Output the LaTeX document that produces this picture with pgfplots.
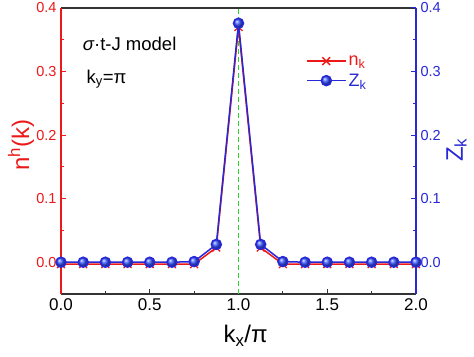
\documentclass[border=0pt]{standalone}
\usepackage{pgfplots}
\pgfplotsset{compat=1.18}
\usepackage{fontspec}
\setmainfont{Liberation Sans}
\definecolor{myred}{RGB}{235,25,25}
\definecolor{myblue}{RGB}{40,40,215}
\definecolor{ballblue}{RGB}{50,80,255}
\definecolor{mygreen}{RGB}{40,215,40}
\pgfplotstableread{
x n z
0.000 -0.003 0.000
0.125 -0.003 0.000
0.250 -0.003 0.000
0.375 -0.003 0.000
0.500 -0.003 0.000
0.625 -0.003 0.000
0.750 -0.003 0.001
0.875 0.023 0.028
1.000 0.370 0.376
1.125 0.023 0.028
1.250 -0.003 0.001
1.375 -0.003 0.000
1.500 -0.003 0.000
1.625 -0.003 0.000
1.750 -0.003 0.000
1.875 -0.003 0.000
2.000 -0.003 0.000
}\datatable
\begin{document}
\begin{tikzpicture}
\pgfplotsset{
  common/.style={
    scale only axis, width=355pt, height=286pt,
    xmin=0, xmax=2, ymin=-0.05, ymax=0.4,
    tick align=inside,
    major tick length=5pt, minor tick length=3pt,
    /pgf/number format/assume math mode=true,
    /pgf/number format/fixed, /pgf/number format/fixed zerofill,
    /pgf/number format/precision=1,
    ytick={0,0.1,0.2,0.3,0.4}, minor y tick num=1,
    xtick={0,0.5,1,1.5,2}, minor x tick num=1,
    yticklabel style={font=\fontsize{14.5}{16}\selectfont},
    xticklabel style={font=\fontsize{17}{19}\selectfont},
    label style={font=\fontsize{24}{28}\selectfont},
  }
}
\begin{axis}[common, name=ax,
  axis y line*=left, axis x line*=box,
  xtick pos=bottom,
  y axis line style={myred, line width=1.2pt},
  x axis line style={black!80, line width=1.2pt},
  ytick style={myred, line width=1pt},
  xtick style={black!80, line width=1pt},
  yticklabel style={myred, xshift=-1pt},
  xticklabel style={yshift=-1pt},
  ylabel={n\textsuperscript{h}(k)},
  ylabel style={myred, at={(axis description cs:-0.09,0.521)}, anchor=base},
  xlabel={k\textsubscript{x}/π},
  xlabel style={at={(axis description cs:0.52,-0.171)}, anchor=base},
]
\addplot[mygreen, line width=1.4pt, dash pattern=on 5pt off 3pt, forget plot] coordinates {(1,-0.05) (1,0.4)};
\addplot[myred, line width=1.5pt, mark=x, mark size=5.5pt, mark options={line width=1.3pt}] table[x=x,y=n]{\datatable};
\node[anchor=base west, font=\fontsize{18.5}{20}\selectfont] at (axis description cs:0.052,0.853) {{\itshape σ}·t-J model};
\node[anchor=base west, font=\fontsize{18.5}{20}\selectfont] at (axis description cs:0.062,0.737) {k\textsubscript{y}=π};
\end{axis}
\begin{axis}[common,
  axis y line*=right, axis x line=none,
  y axis line style={myblue, line width=1.2pt},
  ytick style={myblue, line width=1pt},
  yticklabel style={myblue, xshift=1pt},
  ylabel={Z\textsubscript{k}},
  ylabel style={myblue, at={(axis description cs:1.132,0.503)}, anchor=base},
  legend style={draw=none, fill=none, at={(axis description cs:0.687,0.845)}, anchor=north west, font=\fontsize{18}{20}\selectfont, row sep=3pt, inner sep=1pt},
  legend cell align=left,
  legend image code/.code={\draw[mark repeat=2,mark phase=2,line width=1.5pt,#1] plot coordinates {(0pt,0pt) (19.5pt,0pt) (39pt,0pt)};},
]
\addlegendimage{myred, line width=1.5pt, mark=x, mark size=5.5pt, mark options={line width=1.4pt}}
\addlegendentry{\textcolor{myred}{n\textsubscript{k}}}
\addplot[myblue, line width=1.5pt, mark=ball, mark size=5pt, mark options={ball color=ballblue}] table[x=x,y=z]{\datatable};
\addlegendentry{\textcolor{myblue}{Z\textsubscript{k}}}
\end{axis}
\pgfresetboundingbox
\path[use as bounding box] ([shift={(-61pt,-63pt)}]ax.south west) rectangle ([shift={(58pt,8pt)}]ax.north east);
\end{tikzpicture}
\end{document}
